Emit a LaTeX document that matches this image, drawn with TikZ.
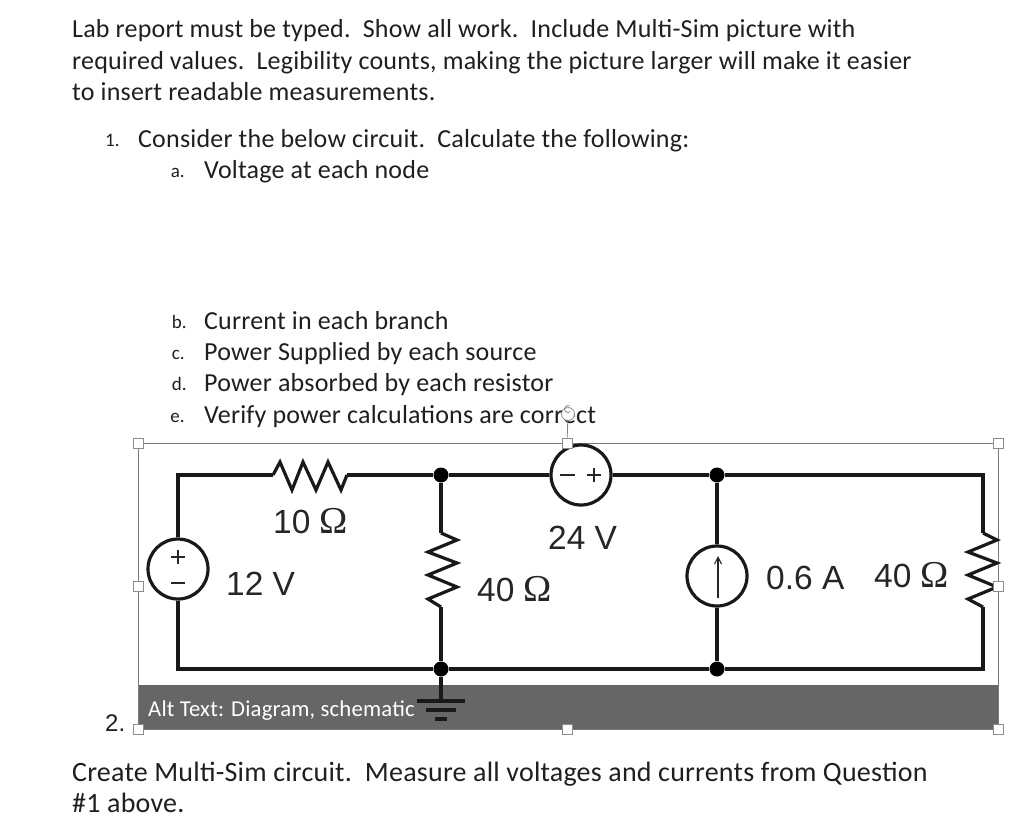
\documentclass[tikz,border=0pt]{standalone}
\usepackage{fontspec}
\setmainfont{Carlito}[LetterSpace=0.8]
\newfontfamily\circfont{Liberation Sans}
\newfontfamily\omfont{Liberation Serif}
\usetikzlibrary{arrows.meta}
\definecolor{bodyink}{HTML}{1F1F1F}
\definecolor{band}{HTML}{666666}
\definecolor{frameline}{HTML}{7A7A7A}
\newcommand{\Om}{{\omfont\fontsize{38}{38}\selectfont Ω}}
\newcommand{\gap}{\ \ }
\tikzset{
  x=1pt,y=-1pt,
  body/.style={anchor=base west,inner sep=0pt,text=bodyink,font=\fontsize{26}{30}\selectfont},
  bodylarge/.style={body,font=\fontsize{28}{32}\selectfont},
  marker/.style={anchor=base east,inner sep=0pt,text=bodyink,font=\fontsize{19}{22}\selectfont},
  wire/.style={draw=black!90,line width=3.2pt,line join=miter},
  src/.style={circle,draw=black!90,line width=3.2pt,fill=white,minimum size=60pt,inner sep=0pt},
  dot/.style={circle,fill=black,minimum size=15pt,inner sep=0pt},
  val/.style={inner sep=0pt,anchor=base west,text=black!85,font=\circfont\fontsize{33.5}{36}\selectfont},
  handle/.style={draw=black!45,fill=white,line width=.8pt,minimum size=10pt,inner sep=0pt,rectangle},
  sign/.style={draw=black!85,line width=1.6pt},
}
\begin{document}
\begin{tikzpicture}
\useasboundingbox (0,0) rectangle (1024,825);
\fill[white] (0,0) rectangle (1024,825);
% text
\node[body] (t1) at (72,37) {Lab report must be typed.\gap Show all work.\gap Include Multi-Sim picture with};
\node[body] (t2) at (72,69) {required values.\gap Legibility counts, making the picture larger will make it easier};
\node[body] (t3) at (72,100) {to insert readable measurements.};
\node[marker] (m1) at (120,146) {1.};
\node[body] (l1) at (138,147) {Consider the below circuit.\gap Calculate the following:};
\node[marker] (ma) at (185,177) {a.};
\node[body] (la) at (204,178) {Voltage at each node};
\node[marker] (mb) at (187,328) {b.};
\node[body] (lb) at (204,329) {Current in each branch};
\node[marker] (mc) at (185,359) {c.};
\node[body] (lc) at (204,360) {Power Supplied by each source};
\node[marker] (md) at (187,390) {d.};
\node[body] (ld) at (204,391) {Power absorbed by each resistor};
\node[marker] (me) at (185,422) {e.};
\node[body] (le) at (204,423) {Verify power calculations are correct};
\node[bodylarge] (q2a) at (72,781) {Create Multi-Sim circuit.\gap Measure all voltages and currents from Question};
\node[bodylarge] (q2b) at (72,812) {\#1 above.};
\node[inner sep=0pt,anchor=base west,text=bodyink,font=\circfont\fontsize{24}{28}\selectfont] (n2) at (105,731) {2.};
% frame
\fill[white] (138,443) rectangle (998,729);
\fill[band] (138,685) rectangle (998,729);
\draw[frameline,line width=.8pt] (138,443) rectangle (998,729);
\node[inner sep=0pt,anchor=base west,text=white,font=\fontsize{22.7}{27}\selectfont] (alt) at (148,716) {Alt Text: Diagram, schematic};
% junctions
\coordinate (tl) at (178,475);
\coordinate (bl) at (178,669);
\coordinate (tr) at (983,475);
\coordinate (br) at (983,669);
\node[dot] (n1t) at (441,475) {};
\node[dot] (n1b) at (441,669) {};
\node[dot] (n2t) at (717,475) {};
\node[dot] (n2b) at (717,669) {};
\coordinate (r1a) at (273,475);
\coordinate (r1b) at (347,475);
\coordinate (r2a) at (441,533);
\coordinate (r2b) at (441,607);
\coordinate (r3a) at (983,533);
\coordinate (r3b) at (983,607);
\coordinate (gnd) at (441,701);
% sources
\node[src] (vs1) at (178,569) {};
\node[src] (vs2) at (581,475) {};
\node[src] (is1) at (717,576) {};
% wires
\draw[wire] (vs1) -- (tl) -- (r1a);
\draw[wire] (r1b) -- (n1t);
\draw[wire] (vs1) -- (bl) -- (n1b);
\draw[wire] (n1t) -- (vs2);
\draw[wire] (vs2) -- (n2t);
\draw[wire] (n2t) -- (tr) -- (r3a);
\draw[wire] (r3b) -- (br) -- (n2b);
\draw[wire] (n1b) -- (n2b);
\draw[wire] (n1t) -- (r2a);
\draw[wire] (r2b) -- (n1b);
\draw[wire] (n2t) -- (is1);
\draw[wire] (is1) -- (n2b);
\draw[wire] (n1b) -- (gnd);
% resistors
\draw[wire] (r1a) -- ++(7,-13) -- ++(12,28) -- ++(11,-28) -- ++(13,28) -- ++(12,-28) -- ++(13,28) -- (r1b);
\draw[wire] (r2a) -- ++(16,7) -- ++(-29,12) -- ++(29,11) -- ++(-29,12) -- ++(29,12) -- ++(-29,12) -- (r2b);
\draw[wire] (r3a) -- ++(14,7) -- ++(-29,12) -- ++(29,11) -- ++(-29,12) -- ++(29,12) -- ++(-29,12) -- (r3b);
% ground
\draw[wire] ([xshift=-24pt]gnd) -- ([xshift=24pt]gnd);
\draw[wire] ([xshift=-15pt,yshift=-9pt]gnd) -- ([xshift=15pt,yshift=-9pt]gnd);
\draw[wire] ([xshift=-6pt,yshift=-18pt]gnd) -- ([xshift=6pt,yshift=-18pt]gnd);
% signs
\draw[sign] (171,557) -- (185,557) (178,550) -- (178,564);
\draw[sign] (171,583) -- (185,583);
\draw[sign] (560,475) -- (575,475);
\draw[sign] (587,475) -- (601,475) (594,468) -- (594,482);
\draw[draw=black!85,line width=1.1pt,-{Straight Barb[length=7pt,width=7pt]}] (718,598) -- (718,556);
% values
\node[val] (v10) at (273,533) {10 \Om};
\node[val] (v24) at (548,549) {24 V};
\node[val] (v12) at (226,595) {12 V};
\node[val] (v40) at (477,601) {40 \Om};
\node[val] (v06) at (766,589) {0.6 A};
\node[val] (v40b) at (874,587) {40 \Om};
% handles
\node[handle] (h1) at (138,443) {};
\node[handle] (h2) at (567,443) {};
\node[handle] (h3) at (998,443) {};
\node[handle] (h4) at (138,586) {};
\node[handle] (h5) at (998,586) {};
\node[handle] (h6) at (138,729) {};
\node[handle] (h7) at (567,729) {};
\node[handle] (h8) at (998,729) {};
\node[circle,draw=black!45,fill=white,line width=.8pt,minimum size=13pt,inner sep=0pt] (rot) at (568,414) {};
\draw[black!50,line width=.7pt] ([shift={(45:3.5pt)}]rot.center) arc[start angle=-45,end angle=-300,radius=3.5pt];
\draw[black!50,line width=.8pt] (rot) -- (h2);
\end{tikzpicture}
\end{document}
